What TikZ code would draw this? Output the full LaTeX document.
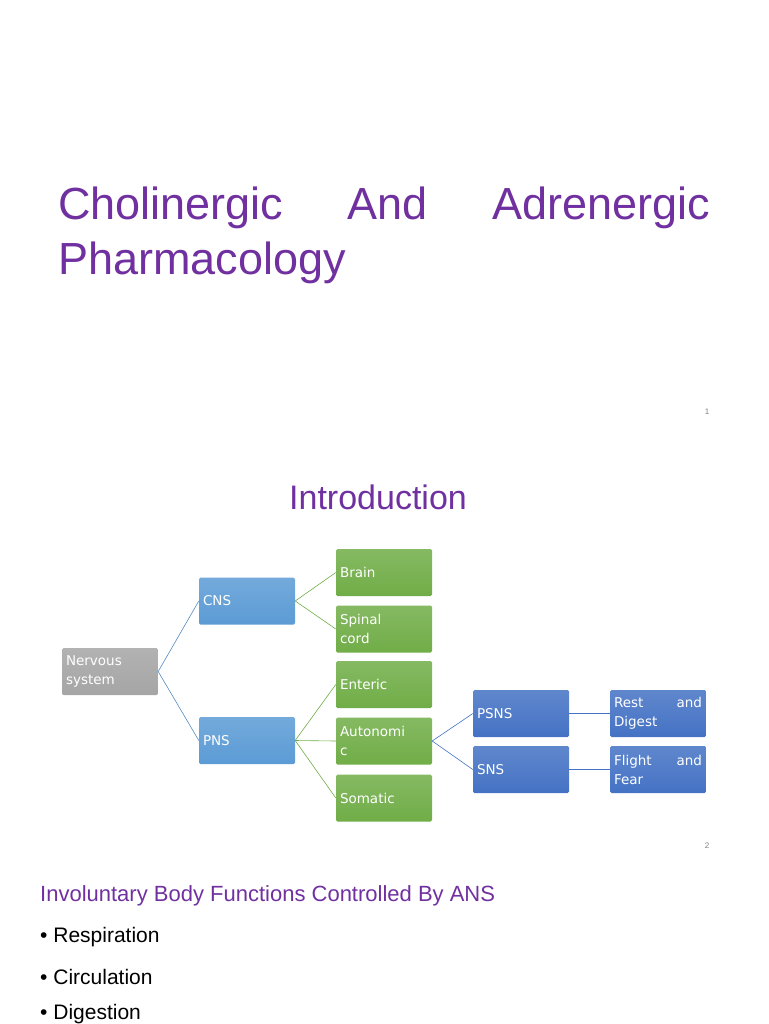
\documentclass[tikz,border=0pt]{standalone}
\usepackage{fontspec}
\setmainfont{Liberation Sans}
\newfontfamily\boxfont{DejaVu Sans}
\definecolor{slidepurple}{HTML}{7030A0}
\definecolor{boxgray}{HTML}{A5A5A5}
\definecolor{boxblue}{HTML}{5B9BD5}
\definecolor{boxgreen}{HTML}{70AD47}
\definecolor{boxdark}{HTML}{4472C4}
\tikzset{
    box/.style={rectangle, rounded corners=1.5pt, minimum width=96pt, minimum height=47pt,
        text width=88pt, inner sep=4pt, align=left, text=white,
        font=\boxfont\fontsize{13.5}{19}\selectfont},
    graybox/.style={box, top color=boxgray!85!white, bottom color=boxgray},
    bluebox/.style={box, top color=boxblue!85!white, bottom color=boxblue},
    greenbox/.style={box, top color=boxgreen!85!white, bottom color=boxgreen},
    darkbox/.style={box, top color=boxdark!85!white, bottom color=boxdark},
    blueline/.style={draw=boxblue!90!black, line width=0.6pt},
    greenline/.style={draw=boxgreen, line width=0.6pt},
    darkline/.style={draw=boxdark, line width=0.6pt}
}
\begin{document}
\begin{tikzpicture}[x=1pt, y=-1pt]
    \useasboundingbox (0,0) rectangle (768,1024);

    % Slide 1
    \node[anchor=north west, text width=652pt, align=justify, inner sep=0pt,
        text=slidepurple, font=\fontsize{45}{55}\selectfont] (title) at (58,187)
        {Cholinergic And Adrenergic Pharmacology};
    \node[font=\fontsize{8}{10}\selectfont, text=gray] (pageone) at (707,412) {1};

    % Slide 2
    \node[text=slidepurple, font=\fontsize{34}{40}\selectfont] (intro) at (378,497) {Introduction};
    \node[font=\fontsize{8}{10}\selectfont, text=gray] (pagetwo) at (707,846) {2};

    % Tree boxes
    \node[graybox] (nervous) at (110,671.5) {Nervous\\system};
    \node[bluebox] (cns) at (247,601) {CNS};
    \node[bluebox] (pns) at (247,740.5) {PNS};
    \node[greenbox] (brain) at (384,572.5) {Brain};
    \node[greenbox] (spinal) at (384,629) {Spinal\\cord};
    \node[greenbox] (enteric) at (384,684.5) {Enteric};
    \node[greenbox] (autonomic) at (384,741) {Autonomi\\c};
    \node[greenbox] (somatic) at (384,798) {Somatic};
    \node[darkbox] (psns) at (521,713.5) {PSNS};
    \node[darkbox] (sns) at (521,769.5) {SNS};
    \node[darkbox] (rest) at (658,713.5) {Rest\hfill and\\Digest};
    \node[darkbox] (flight) at (658,769.5) {Flight\hfill and\\Fear};

    % Connectors
    \foreach \child in {cns, pns} {
        \draw[blueline] (nervous.east) -- (\child.west);
    }
    \foreach \child in {brain, spinal} {
        \draw[greenline] (cns.east) -- (\child.west);
    }
    \foreach \child in {enteric, autonomic, somatic} {
        \draw[greenline] (pns.east) -- (\child.west);
    }
    \foreach \child in {psns, sns} {
        \draw[darkline] (autonomic.east) -- (\child.west);
    }
    \draw[darkline] (psns.east) -- (rest.west);
    \draw[darkline] (sns.east) -- (flight.west);

    % Slide 3
    \node[anchor=west, inner sep=0pt, text=slidepurple, font=\fontsize{22}{26}\selectfont] (ans) at (40,896)
        {Involuntary Body Functions Controlled By ANS};
    \node[anchor=west, inner sep=0pt, font=\fontsize{21}{24}\selectfont] (resp) at (40,937) {\textbullet\ Respiration};
    \node[anchor=west, inner sep=0pt, font=\fontsize{21}{24}\selectfont] (circ) at (40,977) {\textbullet\ Circulation};
    \node[anchor=west, inner sep=0pt, font=\fontsize{21}{24}\selectfont] (dig) at (40,1014) {\textbullet\ Digestion};
\end{tikzpicture}
\end{document}
